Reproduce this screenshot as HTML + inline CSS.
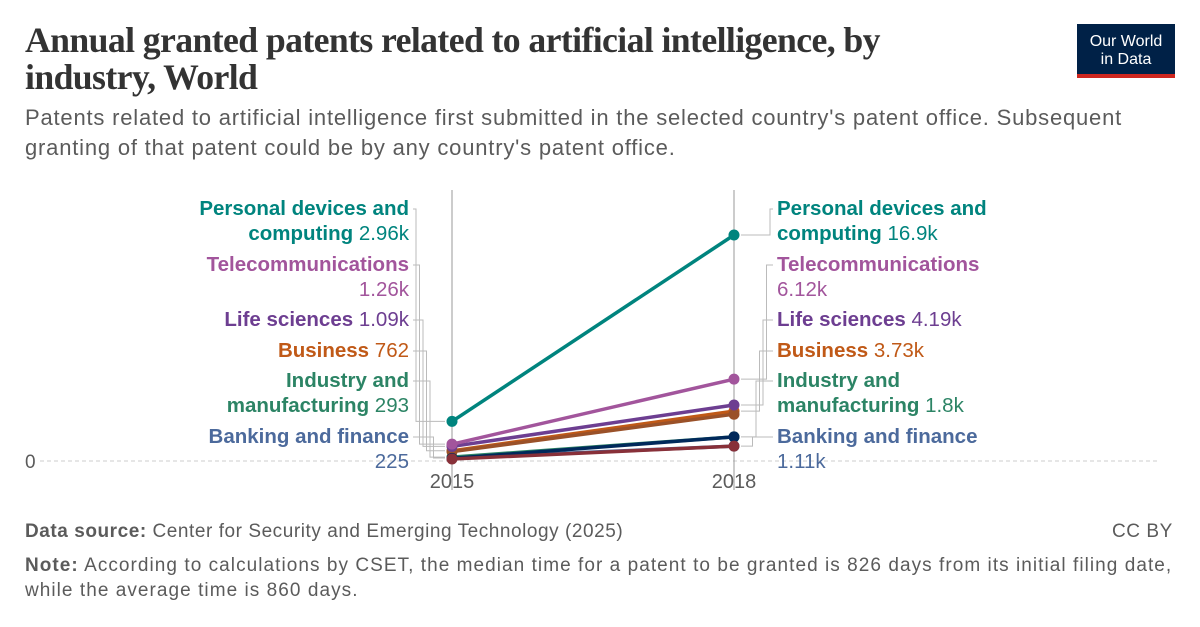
<!DOCTYPE html>
<html><head><meta charset="utf-8"><style>
body{margin:0;width:1200px;height:627px;background:#fff;font-family:"Liberation Sans",sans-serif;position:relative;overflow:hidden}
.t{position:absolute;left:25px;top:22px;font-family:"Liberation Serif",serif;font-size:35.7px;line-height:37px;color:#333;letter-spacing:-0.6px;margin:0;font-weight:bold}
.s{position:absolute;left:25px;top:103px;font-size:22px;line-height:30px;color:#5b5b5b;width:1160px;letter-spacing:0.8px}
.logo{position:absolute;left:1077px;top:24px;width:98px;height:54px;background:#002147;color:#fff;font-size:16px;line-height:18px;text-align:center;padding-top:9px;box-sizing:border-box;border-bottom:4px solid #ce261e}
.f{position:absolute;left:25px;font-size:19px;color:#5b5b5b;letter-spacing:0.55px}
</style></head><body>
<h1 class="t">Annual granted patents related to artificial intelligence, by<br>industry, World</h1>
<div class="s">Patents related to artificial intelligence first submitted in the selected country's patent office. Subsequent<br>granting of that patent could be by any country's patent office.</div>
<div class="logo">Our World<br>in Data</div>
<svg id="c" width="1200" height="627" style="position:absolute;left:0;top:0"></svg>
<div class="f" style="top:521px"><b>Data source:</b> Center for Security and Emerging Technology (2025)</div>
<div class="f" style="top:521px;left:1112px">CC BY</div>
<div class="f" style="top:553px;line-height:25px;width:1175px;letter-spacing:1.05px"><b>Note:</b> According to calculations by CSET, the median time for a patent to be granted is 826 days from its initial filing date,<br>while the average time is 860 days.</div>
<script>
const years=[2015,2018];
const names=["Banking and finance","Industry and manufacturing","Business","Other A","Life sciences","Telecommunications","Personal devices and computing","Other B","Other C"];
const v2015=[225,293,762,700,1090,1260,2960,200,150];
const v2018=[1110,1800,3730,3500,4190,6120,16900,1800,1110];
const colors=["#4c6a9c","#2c8465","#c05917","#9a5129","#6d3e91","#a2559c","#00847e","#00295b","#883039"];
const labels2015=["Banking and finance|225","Industry and|manufacturing 293","Business 762","","Life sciences 1.09k","Telecommunications|1.26k","Personal devices and|computing 2.96k","",""];
const labels2018=["Banking and finance|1.11k","Industry and|manufacturing 1.8k","Business 3.73k","","Life sciences 4.19k","Telecommunications|6.12k","Personal devices and|computing 16.9k","",""];
const labelTop=[427,371,341,0,310,255,199,0,0];
const svg=document.getElementById('c');const NS="http://www.w3.org/2000/svg";
const x=y=>452+(y-2015)/3*282;
const yS=v=>461-v/16900*226;
function mk(t,a){const e=document.createElementNS(NS,t);for(const k in a)e.setAttribute(k,a[k]);svg.appendChild(e);return e;}
let g=mk('line',{x1:40,x2:1160,y1:461,y2:461,stroke:'#ccc','stroke-dasharray':'4,3'});


let z=mk('text',{x:25,y:468,'font-size':19,fill:'#5b5b5b'});z.textContent='0';


years.forEach(yr=>{const l=mk('line',{x1:x(yr),x2:x(yr),y1:190,y2:490,stroke:'#999'});


const t=mk('text',{x:x(yr),y:488,'font-size':20,fill:'#5b5b5b','text-anchor':'middle'});t.textContent=yr;

});
const order=[6,5,4,2,1,0];
names.forEach((n,i)=>{
 if(!labels2015[i])return;
 const rank=order.indexOf(i);
 [[labels2015[i],409,'end',1],[labels2018[i],777,'start',-1]].forEach(([lab,lx,anc,dir])=>{
  const parts=lab.split('|');const ty=labelTop[i]+16;
  parts.forEach((p,k)=>{const t=mk('text',{x:lx,y:ty+k*25,'font-size':20.5,fill:colors[i],'text-anchor':anc});
   const m=p.match(/^(.*?)( ?[\d.]+k?)$/);
   if(m){const a=document.createElementNS(NS,'tspan');a.setAttribute('font-weight','bold');a.textContent=m[1];t.appendChild(a);const b=document.createElementNS(NS,'tspan');b.textContent=m[2];t.appendChild(b);}
   else{t.setAttribute('font-weight','bold');t.textContent=p;}
   
   });
  const ly=ty-6, px=dir>0?x(2015):x(2018), py=dir>0?yS(v2015[i]):yS(v2018[i]);
  const mx=lx+dir*(7+rank*3.5);
  const pl=mk('polyline',{points:`${lx+dir*4},${ly} ${mx},${ly} ${mx},${py} ${px-dir*7},${py}`,fill:'none',stroke:'#bbb','stroke-width':1});
  
  
 });
});
names.forEach((n,i)=>{
 const ln=mk('line',{x1:x(2015),y1:yS(v2015[i]),x2:x(2018),y2:yS(v2018[i]),stroke:colors[i],'stroke-width':3.5});
 
 
 [[2015,v2015[i]],[2018,v2018[i]]].forEach(([yr,v])=>{const c=mk('circle',{cx:x(yr),cy:yS(v),r:5.5,fill:colors[i]});
 
 });
});
</script>
</body></html>
